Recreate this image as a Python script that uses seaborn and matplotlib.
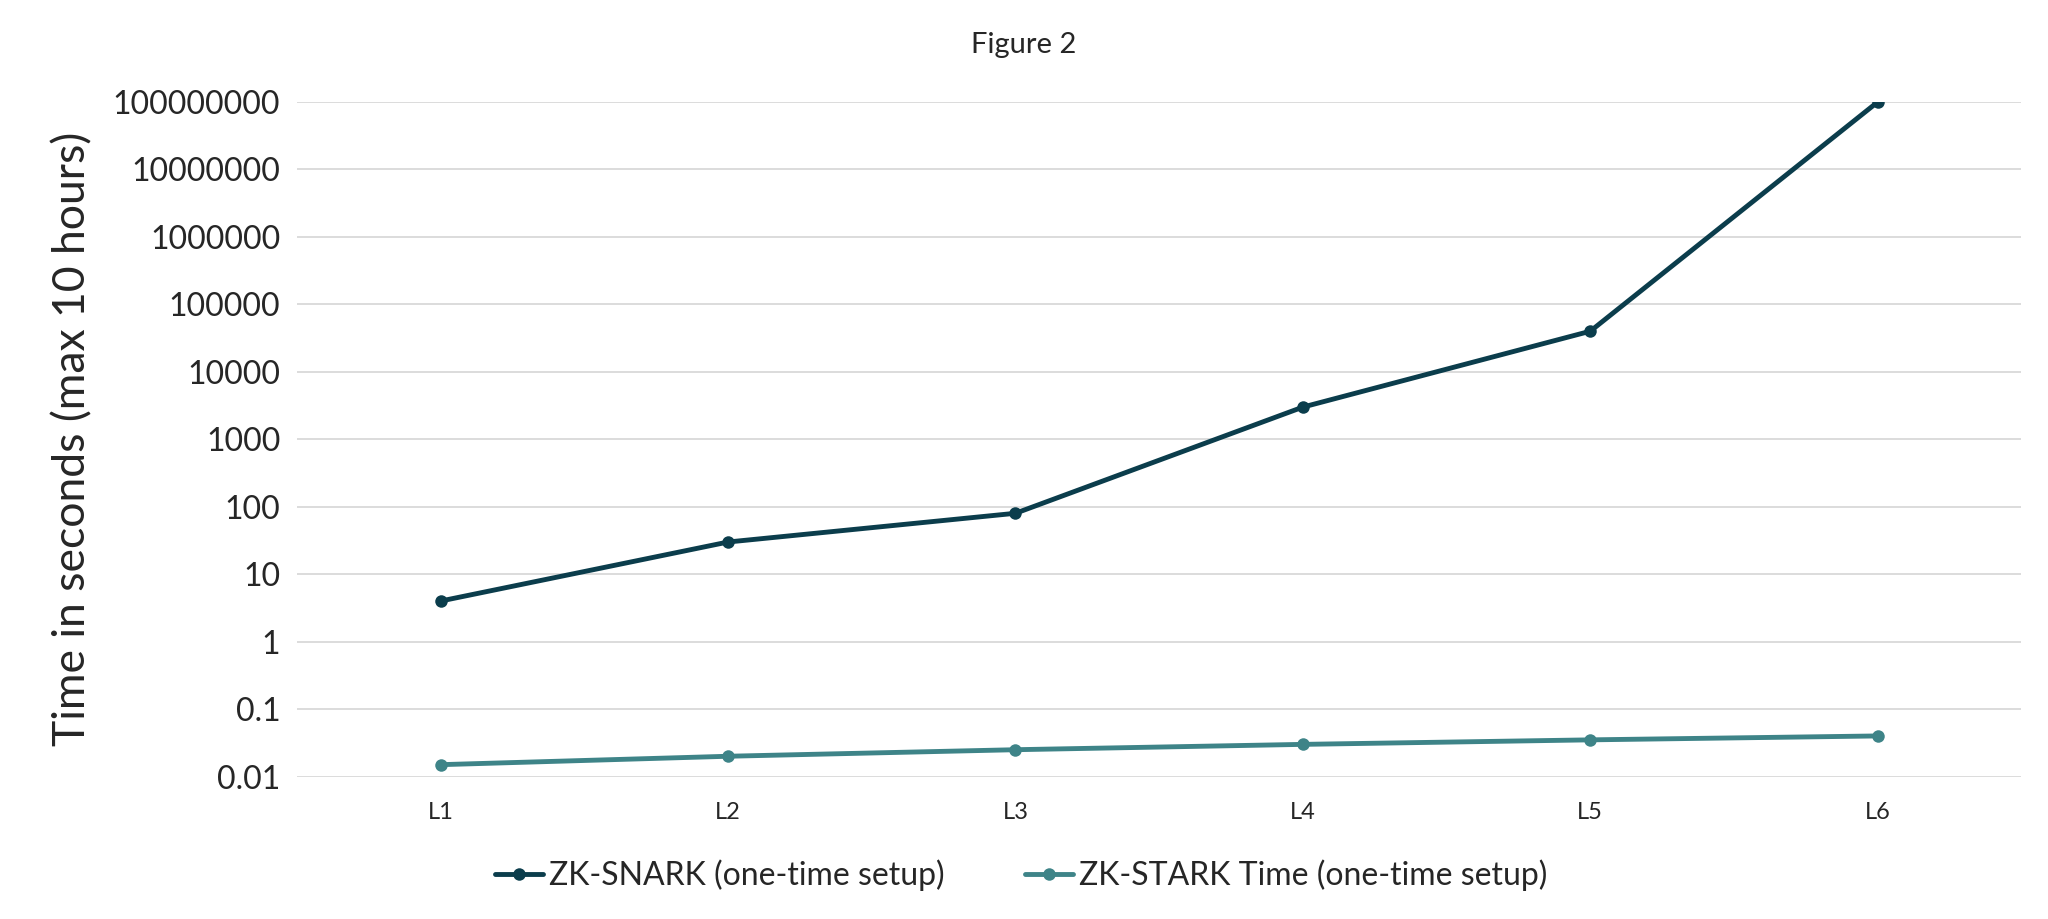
import matplotlib
matplotlib.use("Agg")
import matplotlib.pyplot as plt
import seaborn as sns
import pandas as pd
from matplotlib.ticker import FixedLocator, FixedFormatter

categories = ["L1", "L2", "L3", "L4", "L5", "L6"]
snark = [4, 30, 80, 3000, 40000, 100000000]
stark = [0.015, 0.02, 0.025, 0.03, 0.035, 0.04]
ytick_vals = [0.01, 0.1, 1, 10, 100, 1000, 10000, 100000, 1000000, 10000000, 100000000]
ytick_labels = ["0.01", "0.1", "1", "10", "100", "1000", "10000", "100000", "1000000", "10000000", "100000000"]

sns.set_theme(style="white")
plt.rcParams['font.family'] = ['Lato', 'DejaVu Sans']

df = pd.DataFrame({
    "Level": categories * 2,
    "Time": snark + stark,
    "Series": ["ZK-SNARK (one-time setup)"] * 6 + ["ZK-STARK Time (one-time setup)"] * 6,
})

fig = plt.figure(figsize=(20.48, 9.19), dpi=100)
ax = fig.add_axes([0.145, 0.155, 0.842, 0.734])
sns.lineplot(data=df, x="Level", y="Time", hue="Series",
             palette=["#0b3d4c", "#3e8488"], marker="o", markersize=9,
             markeredgewidth=0, linewidth=3.5, ax=ax, sort=False)
ax.set_yscale("log")
ax.set_ylim(0.01, 100000000)
ax.set_xlim(-0.5, 5.5)
ax.yaxis.set_major_locator(FixedLocator(ytick_vals))
ax.yaxis.set_major_formatter(FixedFormatter(ytick_labels))
ax.yaxis.set_minor_locator(FixedLocator([]))
ax.grid(axis="y", color="#d9d9d9", linewidth=1.3)
ax.grid(axis="x", visible=False)
for s in ax.spines.values():
    s.set_visible(False)
ax.tick_params(axis="y", labelsize=23, length=0, pad=12)
ax.tick_params(axis="x", labelsize=17, length=0, pad=18)
ax.set_xlabel("")
ax.set_ylabel("Time in seconds (max 10 hours)", fontsize=32, labelpad=14)
fig.suptitle("Figure 2", fontsize=21, y=0.965)
ax.legend(loc="upper center", bbox_to_anchor=(0.42, -0.08), ncol=2, frameon=False,
          fontsize=23, handlelength=1.5, columnspacing=2.5, handletextpad=0.2)
fig.savefig("out.png", dpi=100, facecolor="white")
